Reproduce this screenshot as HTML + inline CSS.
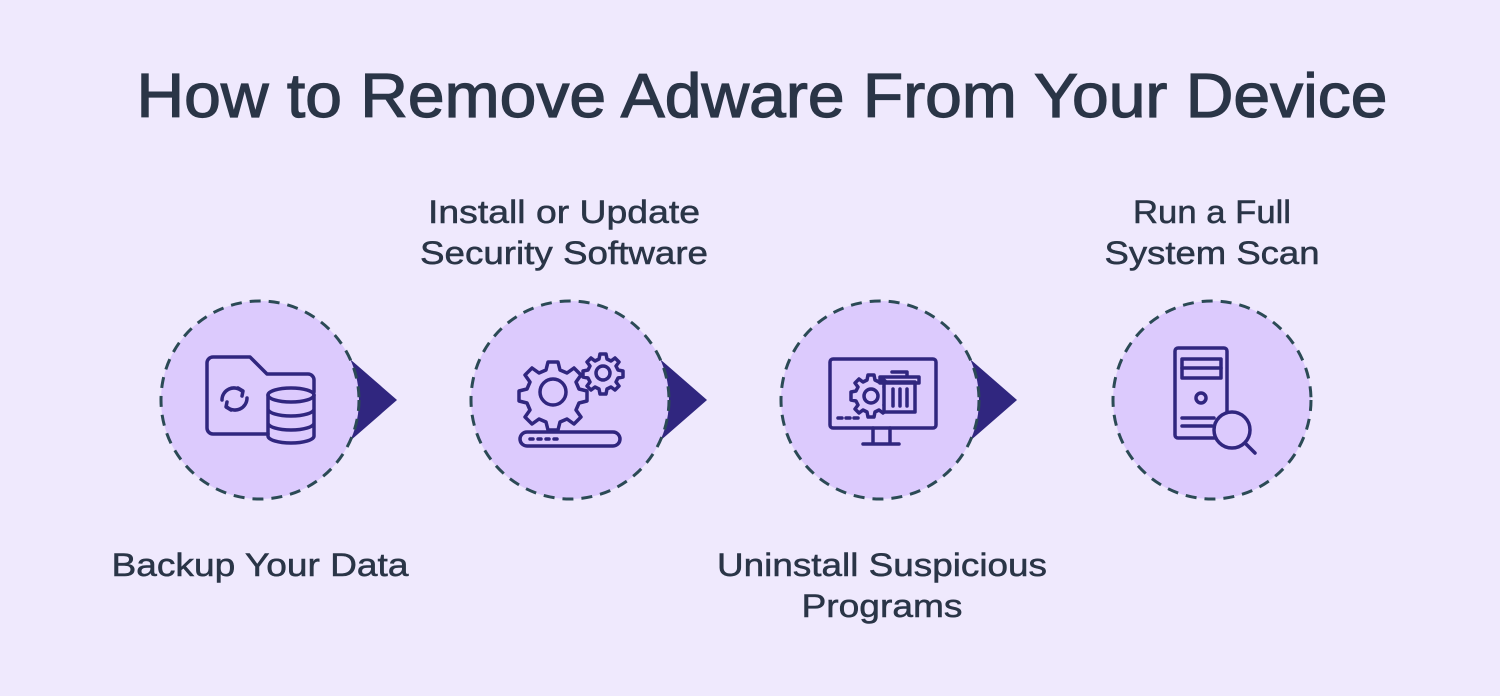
<!DOCTYPE html>
<html><head><meta charset="utf-8"><style>
html,body{margin:0;padding:0;background:#efe9fd;}
svg{display:block}
text{font-family:"Liberation Sans",sans-serif;fill:#2a3547;stroke:#2a3547}
</style></head><body>
<svg width="1500" height="696" viewBox="0 0 1500 696" xmlns="http://www.w3.org/2000/svg">
<rect width="1500" height="696" fill="#efe9fd"/>
<text x="762" y="117" font-size="62" stroke-width="1.2" text-anchor="middle" textLength="1251" lengthAdjust="spacingAndGlyphs">How to Remove Adware From Your Device</text>

<g fill="#30267f">
<polygon points="335,346 397,400 335,454"/>
<polygon points="645,346 707,400 645,454"/>
<polygon points="955,346 1017,400 955,454"/>
</g>
<g fill="#dccafd" stroke="#2b4a55" stroke-width="3" stroke-dasharray="11 8">
<circle cx="260" cy="400" r="99"/>
<circle cx="570" cy="400" r="99"/>
<circle cx="880" cy="400" r="99"/>
<circle cx="1212" cy="400" r="99"/>
</g>

<g fill="none" stroke="#30267f" stroke-width="3.5" stroke-linejoin="round" stroke-linecap="round">
<path d="M268,434 H213 a6,6 0 0 1 -6,-6 V363 a6,6 0 0 1 6,-6 H250 l17,17 H308 a6,6 0 0 1 6,6 V392"/>
<ellipse cx="291" cy="395" rx="23" ry="7"/>
<path d="M268,395 V436 a23,7 0 0 0 46,0 V395 M268,409 a23,7 0 0 0 46,0 M268,423 a23,7 0 0 0 46,0"/>
<path d="M222,400 a12,12 0 0 1 20,-9 M247,398 a12,12 0 0 1 -20,9"/>
<path d="M238,388 l5,3 -1,5 M231,410 l-5,-3 1,-5"/>
<circle cx="553" cy="392" r="13"/>
<path d="M553,362 l5,0 2,8 7,3 7,-5 7,7 -5,7 3,7 8,2 0,10 -8,2 -3,7 5,7 -7,7 -7,-5 -7,3 -2,8 -10,0 -2,-8 -7,-3 -7,5 -7,-7 5,-7 -3,-7 -8,-2 0,-10 8,-2 3,-7 -5,-7 7,-7 7,5 7,-3 2,-8 z"/>
<circle cx="603" cy="373" r="7"/>
<path d="M600,354 h6 l1,5 4,2 4,-3 4,4 -3,4 2,4 5,1 v6 l-5,1 -2,4 3,4 -4,4 -4,-3 -4,2 -1,5 h-6 l-1,-5 -4,-2 -4,3 -4,-4 3,-4 -2,-4 -5,-1 v-6 l5,-1 2,-4 -3,-4 4,-4 4,3 4,-2 z"/>
<rect x="520" y="432" width="100" height="14" rx="7"/>
<path d="M530,439 h3 M538,439 h3 M546,439 h3 M554,439 h3"/>
<rect x="830" y="359" width="106" height="69" rx="3"/>
<path d="M873,428 v15 M890,428 v15 M863,444 h36"/>
<path d="M838,418 h4 M846,418 h4 M854,418 h4"/>
<circle cx="871" cy="396" r="7"/>
<path d="M868,375 h6 l1,5 4,2 4,-3 4,4 -3,4 2,4 5,1 v8 l-5,1 -2,4 3,4 -4,4 -4,-3 -4,2 -1,5 h-6 l-1,-5 -4,-2 -4,3 -4,-4 3,-4 -2,-4 -5,-1 v-8 l5,-1 2,-4 -3,-4 4,-4 4,3 4,-2 z"/>
<rect x="884" y="382" width="31" height="30" fill="#dccafd"/>
<path d="M880,377 h39 v6 h-39 z M892,372 h15 v5 M893,389 v17 M900,389 v17 M907,389 v17"/>
<rect x="1175" y="348" width="52" height="90" rx="3"/>
<rect x="1182" y="359" width="39" height="19"/>
<path d="M1182,368 h39"/>
<circle cx="1201" cy="398" r="5"/>
<path d="M1182,418 h32 M1182,426 h30"/>
<circle cx="1232" cy="430" r="18" fill="#dccafd"/>
<path d="M1245,443 l10,10"/>
</g>

<g font-size="32" stroke-width="0.5" text-anchor="middle">
<text x="564" y="223" textLength="272" lengthAdjust="spacingAndGlyphs">Install or Update</text>
<text x="564" y="264" textLength="288" lengthAdjust="spacingAndGlyphs">Security Software</text>
<text x="1212" y="223" textLength="158" lengthAdjust="spacingAndGlyphs">Run a Full</text>
<text x="1212" y="264" textLength="215" lengthAdjust="spacingAndGlyphs">System Scan</text>
<text x="260" y="576" textLength="297" lengthAdjust="spacingAndGlyphs">Backup Your Data</text>
<text x="882" y="576" textLength="330" lengthAdjust="spacingAndGlyphs">Uninstall Suspicious</text>
<text x="882" y="617" textLength="161" lengthAdjust="spacingAndGlyphs">Programs</text>
</g>
</svg>
</body></html>
